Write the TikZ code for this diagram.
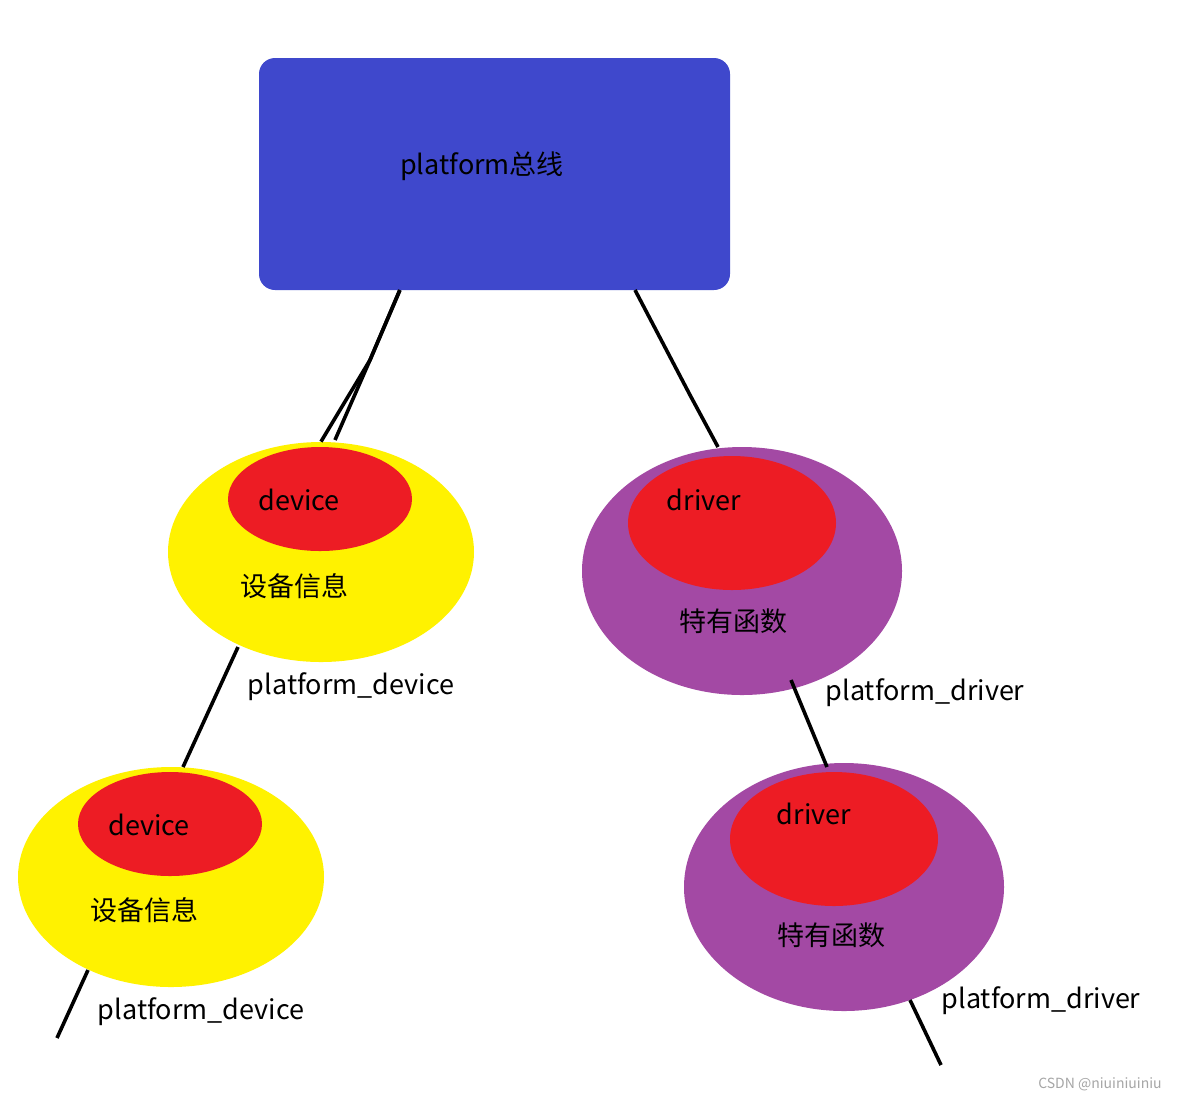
\documentclass[tikz,border=0pt]{standalone}
\usepackage{fontspec}
\setmainfont{Noto Sans CJK SC}
\usetikzlibrary{shapes.geometric}
\definecolor{busblue}{HTML}{3F48CC}
\definecolor{yel}{HTML}{FFF200}
\definecolor{pur}{HTML}{A349A4}
\definecolor{rd}{HTML}{ED1C24}
\begin{document}
\begin{tikzpicture}[x=0.5pt,y=-0.5pt,
  lbl/.style={font=\fontsize{13.5}{15}\selectfont,inner sep=0},
  ell/.style={ellipse,draw=none,inner sep=0},
  wire/.style={line width=1.8pt}]
\useasboundingbox (0,0) rectangle (1182,1100);
\fill[white] (0,0) rectangle (1182,1100);
\node[fill=busblue,rounded corners=8pt,minimum width=235.5pt,minimum height=116pt,inner sep=0] (bus) at (494.5,174) {};
\node[lbl] (bust) at (482,166) {platform总线};
% device 1
\node[ell,fill=yel,minimum width=153pt,minimum height=110pt] (y1) at (321,552) {};
\node[ell,fill=rd,minimum width=92pt,minimum height=52pt] (r1) at (320,499) {};
\node[lbl] (d1) at (299,500) {device};
\node[lbl] (i1) at (294,586) {设备信息};
\node[lbl] (p1) at (351,687) {platform\_device};
% device 2
\node[ell,fill=yel,minimum width=153pt,minimum height=110pt] (y2) at (171,877) {};
\node[ell,fill=rd,minimum width=92pt,minimum height=52pt] (r2) at (170,824) {};
\node[lbl] (d2) at (149,825) {device};
\node[lbl] (i2) at (144,910) {设备信息};
\node[lbl] (p2) at (201,1012) {platform\_device};
% driver 1
\node[ell,fill=pur,minimum width=160pt,minimum height=124pt] (u1) at (742,571) {};
\node[ell,fill=rd,minimum width=104pt,minimum height=67pt] (s1) at (732,523) {};
\node[lbl] (v1) at (704,500) {driver};
\node[lbl] (f1) at (733,621) {特有函数};
\node[lbl] (q1) at (925,693) {platform\_driver};
% driver 2
\node[ell,fill=pur,minimum width=160pt,minimum height=124pt] (u2) at (844,887) {};
\node[ell,fill=rd,minimum width=104pt,minimum height=67pt] (s2) at (834,839) {};
\node[lbl] (v2) at (814,814) {driver};
\node[lbl] (f2) at (831,935) {特有函数};
\node[lbl] (q2) at (1041,1001) {platform\_driver};
\coordinate (e1) at (57,1038);
\coordinate (e2) at (941,1065);
% wires
\draw[wire] (bus.south west)++(141,0) coordinate (a) -- (370,360) -- (y1.north)++(14,-2) coordinate (b);
\draw[wire] (400,290) -- (370,360) -- (335,440);
\draw[wire] (635,290) -- (690,395) -- (718,447);
\draw[wire] (238,647) -- (183,767);
\draw[wire] (791,680) -- (827,767);
\draw[wire] (88,970) -- (e1);
\draw[wire] (910,1000) -- (e2);
\node[font=\fontsize{7}{8}\selectfont,text=gray!70,inner sep=0] (wm) at (1100,1084) {CSDN @niuiniuiniu};
\end{tikzpicture}
\end{document}
